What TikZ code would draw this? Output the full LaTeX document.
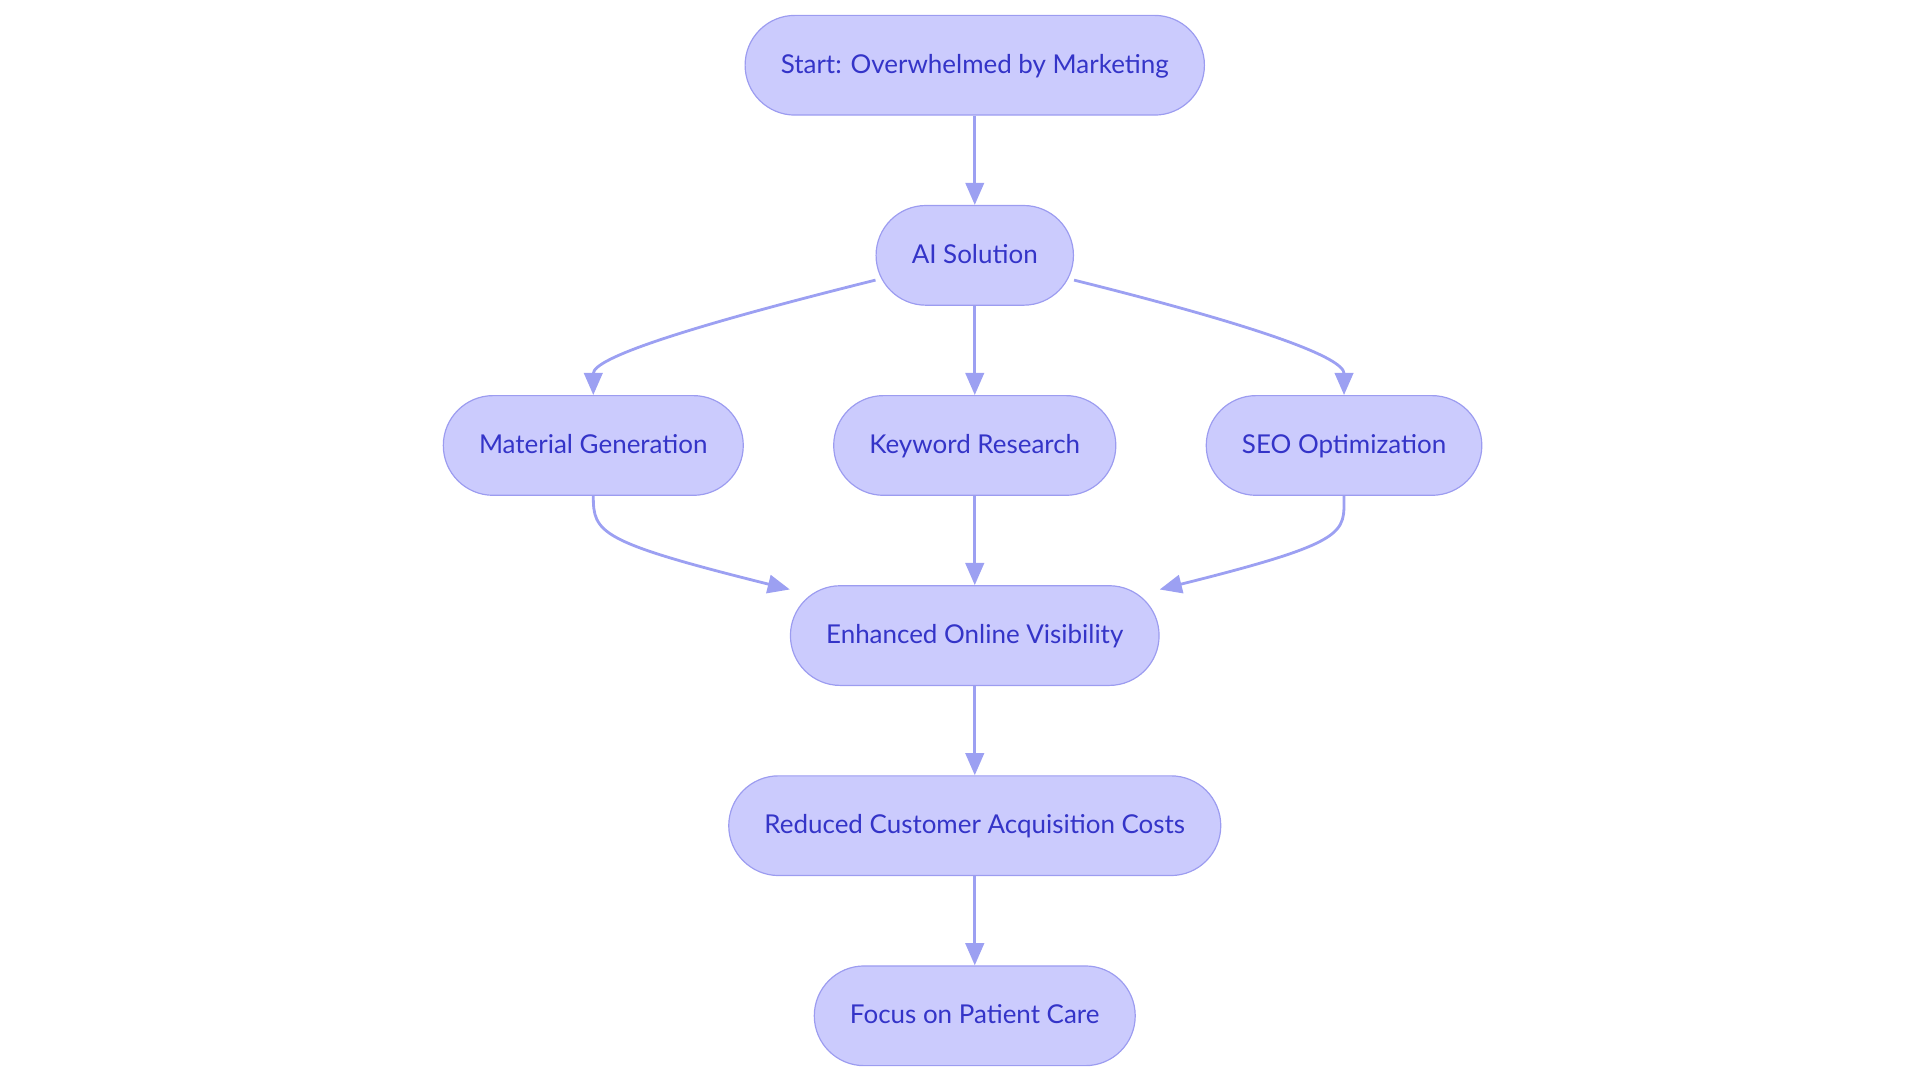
\documentclass[tikz,border=0pt]{standalone}
\usepackage{fontspec}
\setmainfont{Lato}
\usetikzlibrary{arrows.meta,positioning,shapes}
\definecolor{boxfill}{HTML}{CBCBFD}
\definecolor{boxline}{HTML}{9C9CF0}
\definecolor{flowline}{HTML}{9CA0F2}
\definecolor{boxtext}{HTML}{3434C8}
\tikzset{
flow/.style={>={Triangle[length=0.36cm,width=0.3cm]},line width=1.3pt,
    color=flowline,node distance=1.45cm},
step box/.style={rectangle,rounded corners=0.81cm,draw=boxline,line width=0.55pt,
    fill=boxfill,text=boxtext,minimum height=1.62cm,inner xsep=0.58cm,
    text height=0.72em,text depth=0pt,
    font=\fontsize{12}{14}\selectfont},
}

\begin{document}
\begin{tikzpicture}[flow]

    \node[step box] (start) {Start: Overwhelmed by Marketing};
    \node[step box] (ai) [below=of start] {AI Solution};
    \node[step box] (kw) [below=of ai] {Keyword Research};
    \node[step box] (mat) [left=of kw] {Material Generation};
    \node[step box] (seo) [right=of kw] {SEO Optimization};
    \node[step box] (vis) [below=of kw] {Enhanced Online Visibility};
    \node[step box] (cost) [below=of vis] {Reduced Customer Acquisition Costs};
    \node[step box] (care) [below=of cost] {Focus on Patient Care};

    \useasboundingbox ([shift={(-15.84,1.06)}]start.center) rectangle ++(31.2,-17.6);

    \path[->]
        (start) edge (ai)
        (ai) edge (kw)
             edge[out=194,in=90,out distance=3.2cm,in distance=0.6cm] (mat.north)
             edge[out=-14,in=90,out distance=3.2cm,in distance=0.6cm] (seo.north)
        (mat.south) edge[out=-90,in=166,in distance=3.2cm,out distance=0.6cm] (vis.166)
        (kw) edge (vis)
        (seo.south) edge[out=-90,in=14,in distance=3.2cm,out distance=0.6cm] (vis.14)
        (vis) edge (cost)
        (cost) edge (care)
    ;
\end{tikzpicture}
\end{document}
